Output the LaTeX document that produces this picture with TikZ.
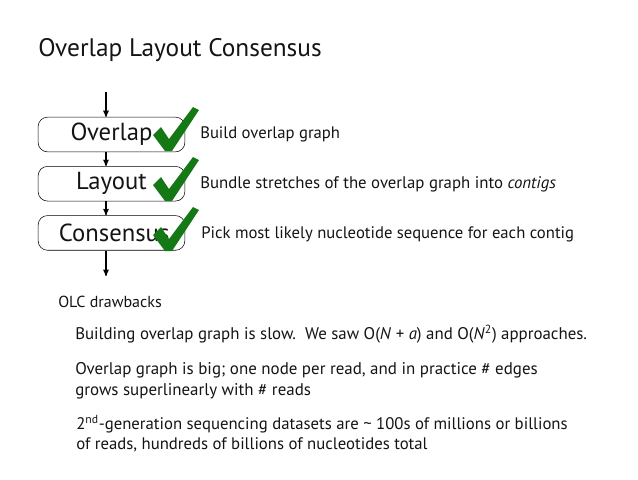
\documentclass[tikz,border=0pt]{standalone}
\usepackage{fontspec}
\setmainfont{PT Sans}
\usetikzlibrary{arrows,positioning}
\definecolor{checkgreen}{RGB}{20,120,20}
\definecolor{textgray}{RGB}{20,20,20}

\begin{document}
\begin{tikzpicture}[x=0.75pt,y=-0.75pt,>=stealth',
    stage/.style={draw,rounded corners=7pt,minimum width=110pt,minimum height=26pt,inner sep=0pt,font=\fontsize{18.5}{20}\selectfont,text=textgray},
    txt/.style={anchor=base west,inner sep=0pt,font=\fontsize{12.5}{15.5}\selectfont,text=textgray}]

      \useasboundingbox (0,0) rectangle (638,479);
      \node[txt,font=\fontsize{19}{22}\selectfont] (title) at (38,56) {Overlap Layout Consensus};

      \coordinate (in) at (106,92);
      \node[stage] (overlap) at (111.5,134.5) {Overlap};
      \node[stage] (layout) [below=10.5pt of overlap] {Layout};
      \node[stage] (consensus) [below=10.5pt of layout] {\hspace{4pt}Consensus};
      \coordinate (out) at (106,276);

      \draw [->, thick] (in) -- (overlap.north -| in);
      \draw [->, thick] (overlap.south -| in) -- (layout.north -| in);
      \draw [->, thick] (layout.south -| in) -- (consensus.north -| in);
      \draw [->, thick] (consensus.south -| in) -- (out);

      % check marks
      \foreach \dy in {0,50,100}
        \fill[checkgreen,shift={(0,\dy)}] (153,135) -- (161,127) -- (169,139) -- (193,107) -- (199,110)
              -- (172,151) -- (165,151) -- cycle;

      \node[txt] (d1) at (200,138) {Build overlap graph};
      \node[txt,font=\fontsize{12.6}{15}\selectfont] (d2) at (200,188) {Bundle stretches of the overlap graph into \textit{contigs}};
      \node[txt] (d3) at (201,238) {Pick most likely nucleotide sequence for each contig};

      \node[txt,font=\fontsize{12}{15}\selectfont] (olc) at (58,307) {OLC drawbacks};
      \node[txt,font=\fontsize{12.65}{15}\selectfont] (b1) at (75,339) {Building overlap graph is slow.\ \ We saw O(\textit{N} + \textit{a}) and O(\textit{N}\textsuperscript{2}) approaches.};
      \node[txt,align=left,anchor=north west,font=\fontsize{12.7}{16}\selectfont] (b2) at (75,362) {Overlap graph is big; one node per read, and in practice \# edges\\grows superlinearly with \# reads};
      \node[txt,align=left,anchor=north west,font=\fontsize{12.55}{15}\selectfont] (b3) at (76,415) {2\textsuperscript{nd}-generation sequencing datasets are \textasciitilde{} 100s of millions or billions\\of reads, hundreds of billions of nucleotides total};
    \end{tikzpicture}
\end{document}
